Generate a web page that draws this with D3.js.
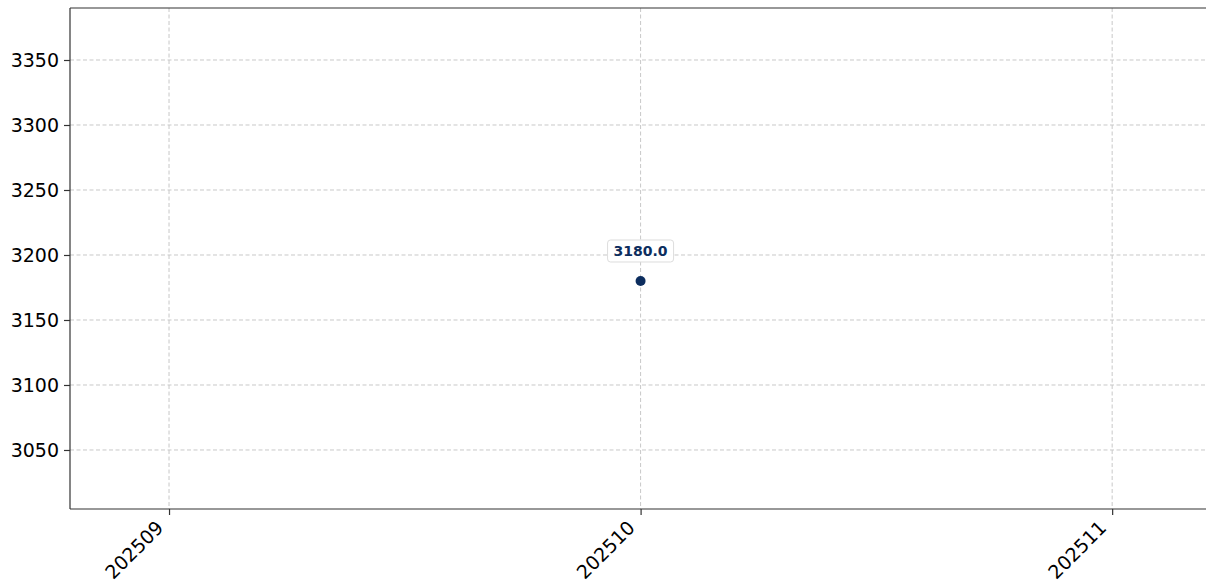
<!DOCTYPE html>
<html>
<head>
<meta charset="utf-8">
<script src="https://cdn.jsdelivr.net/npm/d3@7"></script>
<style>
  body { margin: 0; background: #fff; }
  svg { display: block; font-family: "DejaVu Sans", sans-serif; }
</style>
</head>
<body>
<svg id="chart" width="1206" height="584"></svg>
<script>
// data
const periods = ["202509", "202510", "202511"];
const pointPeriods = ["202510"];
const pointValues = [3180.0];
const yTicks = [3050, 3100, 3150, 3200, 3250, 3300, 3350];

const margin = {top: 8, right: 0, bottom: 75, left: 70},
      width = 1206 - margin.left - margin.right,
      height = 584 - margin.top - margin.bottom;

const navy = "#0c2d5e";

// categories placed at index positions, padded on both sides
let x = d3.scaleLinear()
          .domain([-0.21, 2.199])
          .range([0, width]);

let y = d3.scaleLinear()
          .domain([3004.6, 3390])
          .range([height, 0]);

let svg = d3.select("#chart");
let chart = svg.append("g")
               .attr("transform", "translate(" + margin.left + "," + margin.top + ")");

// grid
chart.append("g")
     .selectAll("line")
     .data(yTicks)
     .enter().append("line")
     .attr("x1", 0).attr("x2", width)
     .attr("y1", d => y(d)).attr("y2", d => y(d))
     .attr("stroke", "#c8c8c8")
     .attr("stroke-width", 1)
     .attr("stroke-dasharray", "4,2.5");

chart.append("g")
     .selectAll("line")
     .data(periods)
     .enter().append("line")
     .attr("x1", (d, i) => x(i)).attr("x2", (d, i) => x(i))
     .attr("y1", 0).attr("y2", height)
     .attr("stroke", "#c8c8c8")
     .attr("stroke-width", 1)
     .attr("stroke-dasharray", "4,2.5");

// y-Axis
let yAxis = d3.axisLeft(y).tickValues(yTicks).tickFormat(d3.format("d")).tickSize(6).tickPadding(5);
let gy = chart.append("g").call(yAxis);
gy.select(".domain").remove();
gy.selectAll(".tick line").attr("stroke", "#333").attr("stroke-width", 1.2);
gy.selectAll(".tick text")
  .attr("fill", "#000")
  .style("font-size", "19px")
  .style("font-family", "DejaVu Sans, sans-serif");

// x-Axis
let xAxis = d3.axisBottom(x)
              .tickValues(periods.map((d, i) => i))
              .tickFormat(i => periods[i])
              .tickSize(6);
let gx = chart.append("g")
              .attr("transform", "translate(0," + height + ")")
              .call(xAxis);
gx.select(".domain").remove();
gx.selectAll(".tick line").attr("stroke", "#333").attr("stroke-width", 1.2);
gx.selectAll(".tick text")
  .attr("fill", "#000")
  .attr("y", 0)
  .attr("dy", 0)
  .style("font-size", "19px")
  .style("font-family", "DejaVu Sans, sans-serif")
  .style("text-anchor", "end")
  .attr("transform", "translate(-5,20) rotate(-45)");

// spines: left, bottom, top
chart.append("line").attr("x1", 0).attr("x2", 0).attr("y1", 0).attr("y2", height)
     .attr("stroke", "#333").attr("stroke-width", 1.2);
chart.append("line").attr("x1", 0).attr("x2", width).attr("y1", height).attr("y2", height)
     .attr("stroke", "#333").attr("stroke-width", 1.2);
chart.append("line").attr("x1", 0).attr("x2", width).attr("y1", 0).attr("y2", 0)
     .attr("stroke", "#333").attr("stroke-width", 1.2);

// points
let pts = pointPeriods.map((p, k) => ({i: periods.indexOf(p), v: pointValues[k]}));

chart.selectAll(".pt")
     .data(pts)
     .enter().append("circle")
     .attr("class", "pt")
     .attr("cx", d => x(d.i))
     .attr("cy", d => y(d.v))
     .attr("r", 5)
     .attr("fill", navy);

// value labels
let labels = chart.selectAll(".lbl")
     .data(pts)
     .enter().append("g")
     .attr("class", "lbl")
     .attr("transform", d => "translate(" + x(d.i) + "," + (y(d.v) - 30) + ")");

labels.append("rect")
      .attr("x", -33).attr("y", -11)
      .attr("width", 66).attr("height", 22)
      .attr("rx", 3)
      .attr("fill", "#fff")
      .attr("fill-opacity", 0.9)
      .attr("stroke", "#dddddd")
      .attr("stroke-width", 1);

labels.append("text")
      .attr("text-anchor", "middle")
      .attr("dy", "0.35em")
      .attr("fill", navy)
      .style("font-size", "14px")
      .style("font-weight", "bold")
      .text(d => d.v.toFixed(1));
</script>
</body>
</html>
